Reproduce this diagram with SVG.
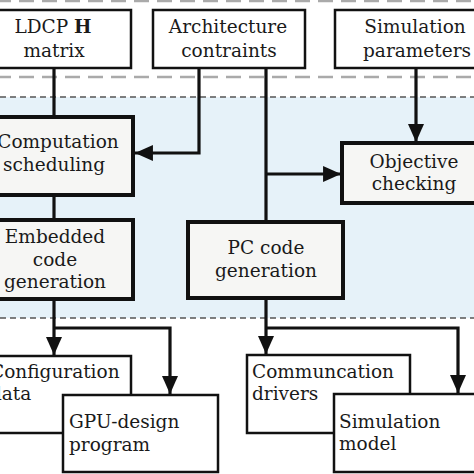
<svg xmlns="http://www.w3.org/2000/svg" width="474" height="474" viewBox="0 0 474 474">
<defs>
<marker id="ah" markerWidth="5.6" markerHeight="5" refX="5.6" refY="2.5" orient="auto" markerUnits="strokeWidth">
<path d="M0,0 L5.6,2.5 L0,5 Z" fill="#111"/>
</marker>
<style>
text{font-family:"DejaVu Serif","Liberation Serif",serif;font-size:18.5px;fill:#1a1a1a}
.c{text-anchor:middle}
.thin{fill:#fff;stroke:#111;stroke-width:2.5}
.thick{fill:#f6f6f4;stroke:#111;stroke-width:4}
.gd{stroke:#aaa;stroke-width:2.5;stroke-dasharray:15 8;fill:none}
.dd{stroke:#555;stroke-width:1.5;stroke-dasharray:6 4;fill:none}
.ln{stroke:#111;stroke-width:3.2;fill:none}
.ar{stroke:#111;stroke-width:3.2;fill:none;marker-end:url(#ah)}
</style>
</defs>
<rect x="0" y="0" width="474" height="474" fill="#fff"/>
<rect x="0" y="97" width="474" height="221" fill="#e6f2f9"/>
<line class="gd" x1="-4" y1="1" x2="474" y2="1"/>
<line class="gd" x1="-4" y1="77" x2="474" y2="77"/>
<line class="dd" x1="0" y1="97" x2="474" y2="97"/>
<line class="dd" x1="0" y1="318" x2="474" y2="318"/>
<g id="connectors">
<path class="ln" d="M54,68 V117"/>
<path class="ar" d="M199,68 V153 H135"/>
<path class="ln" d="M266,68 V222"/>
<path class="ar" d="M266,174 H341"/>
<path class="ar" d="M416,68 V142"/>
<path class="ln" d="M54,195 V220"/>
<path class="ar" d="M54,299 V355"/>
<path class="ar" d="M54,328 H170 V394"/>
<path class="ar" d="M266,298 V354"/>
<path class="ar" d="M266,328 H458 V393"/>
</g>
<g id="ldcp"><rect class="thin" x="-5" y="10" width="136" height="58"/><text class="c" x="53" y="33">LDCP <tspan font-weight="bold">H</tspan></text><text class="c" x="54" y="57">matrix</text></g>
<g id="arch"><rect class="thin" x="153" y="10" width="152" height="58"/><text class="c" x="228" y="33">Architecture</text><text class="c" x="229" y="57">contraints</text></g>
<g id="simparams"><rect class="thin" x="335" y="10" width="145" height="58"/><text class="c" x="415" y="33">Simulation</text><text class="c" x="417" y="57">parameters</text></g>
<g id="compsched"><rect class="thick" x="-5" y="117" width="138" height="78"/><text class="c" x="58" y="148">Computation</text><text class="c" x="54" y="171">scheduling</text></g>
<g id="objective"><rect class="thick" x="342" y="143" width="140" height="60"/><text class="c" x="414" y="168">Objective</text><text class="c" x="414" y="190">checking</text></g>
<g id="embedded"><rect class="thick" x="-5" y="220" width="138" height="79"/><text class="c" x="55" y="243">Embedded</text><text class="c" x="55" y="266">code</text><text class="c" x="55" y="288">generation</text></g>
<g id="pccode"><rect class="thick" x="188" y="222" width="155" height="76"/><text class="c" x="266" y="254">PC code</text><text class="c" x="266" y="277">generation</text></g>
<g id="config"><rect class="thin" x="-5" y="356" width="136" height="77"/><text x="-10" y="378">Configuration</text><text x="-10" y="400">data</text></g>
<g id="gpu"><rect class="thin" x="63" y="395" width="155" height="77"/><text x="69" y="428">GPU-design</text><text x="69" y="451">program</text></g>
<g id="comm"><rect class="thin" x="247" y="355" width="163" height="78"/><text x="252" y="378">Communcation</text><text x="252" y="400">drivers</text></g>
<g id="simmodel"><rect class="thin" x="334" y="394" width="146" height="78"/><text x="339" y="428">Simulation</text><text x="339" y="450">model</text></g>
</svg>
